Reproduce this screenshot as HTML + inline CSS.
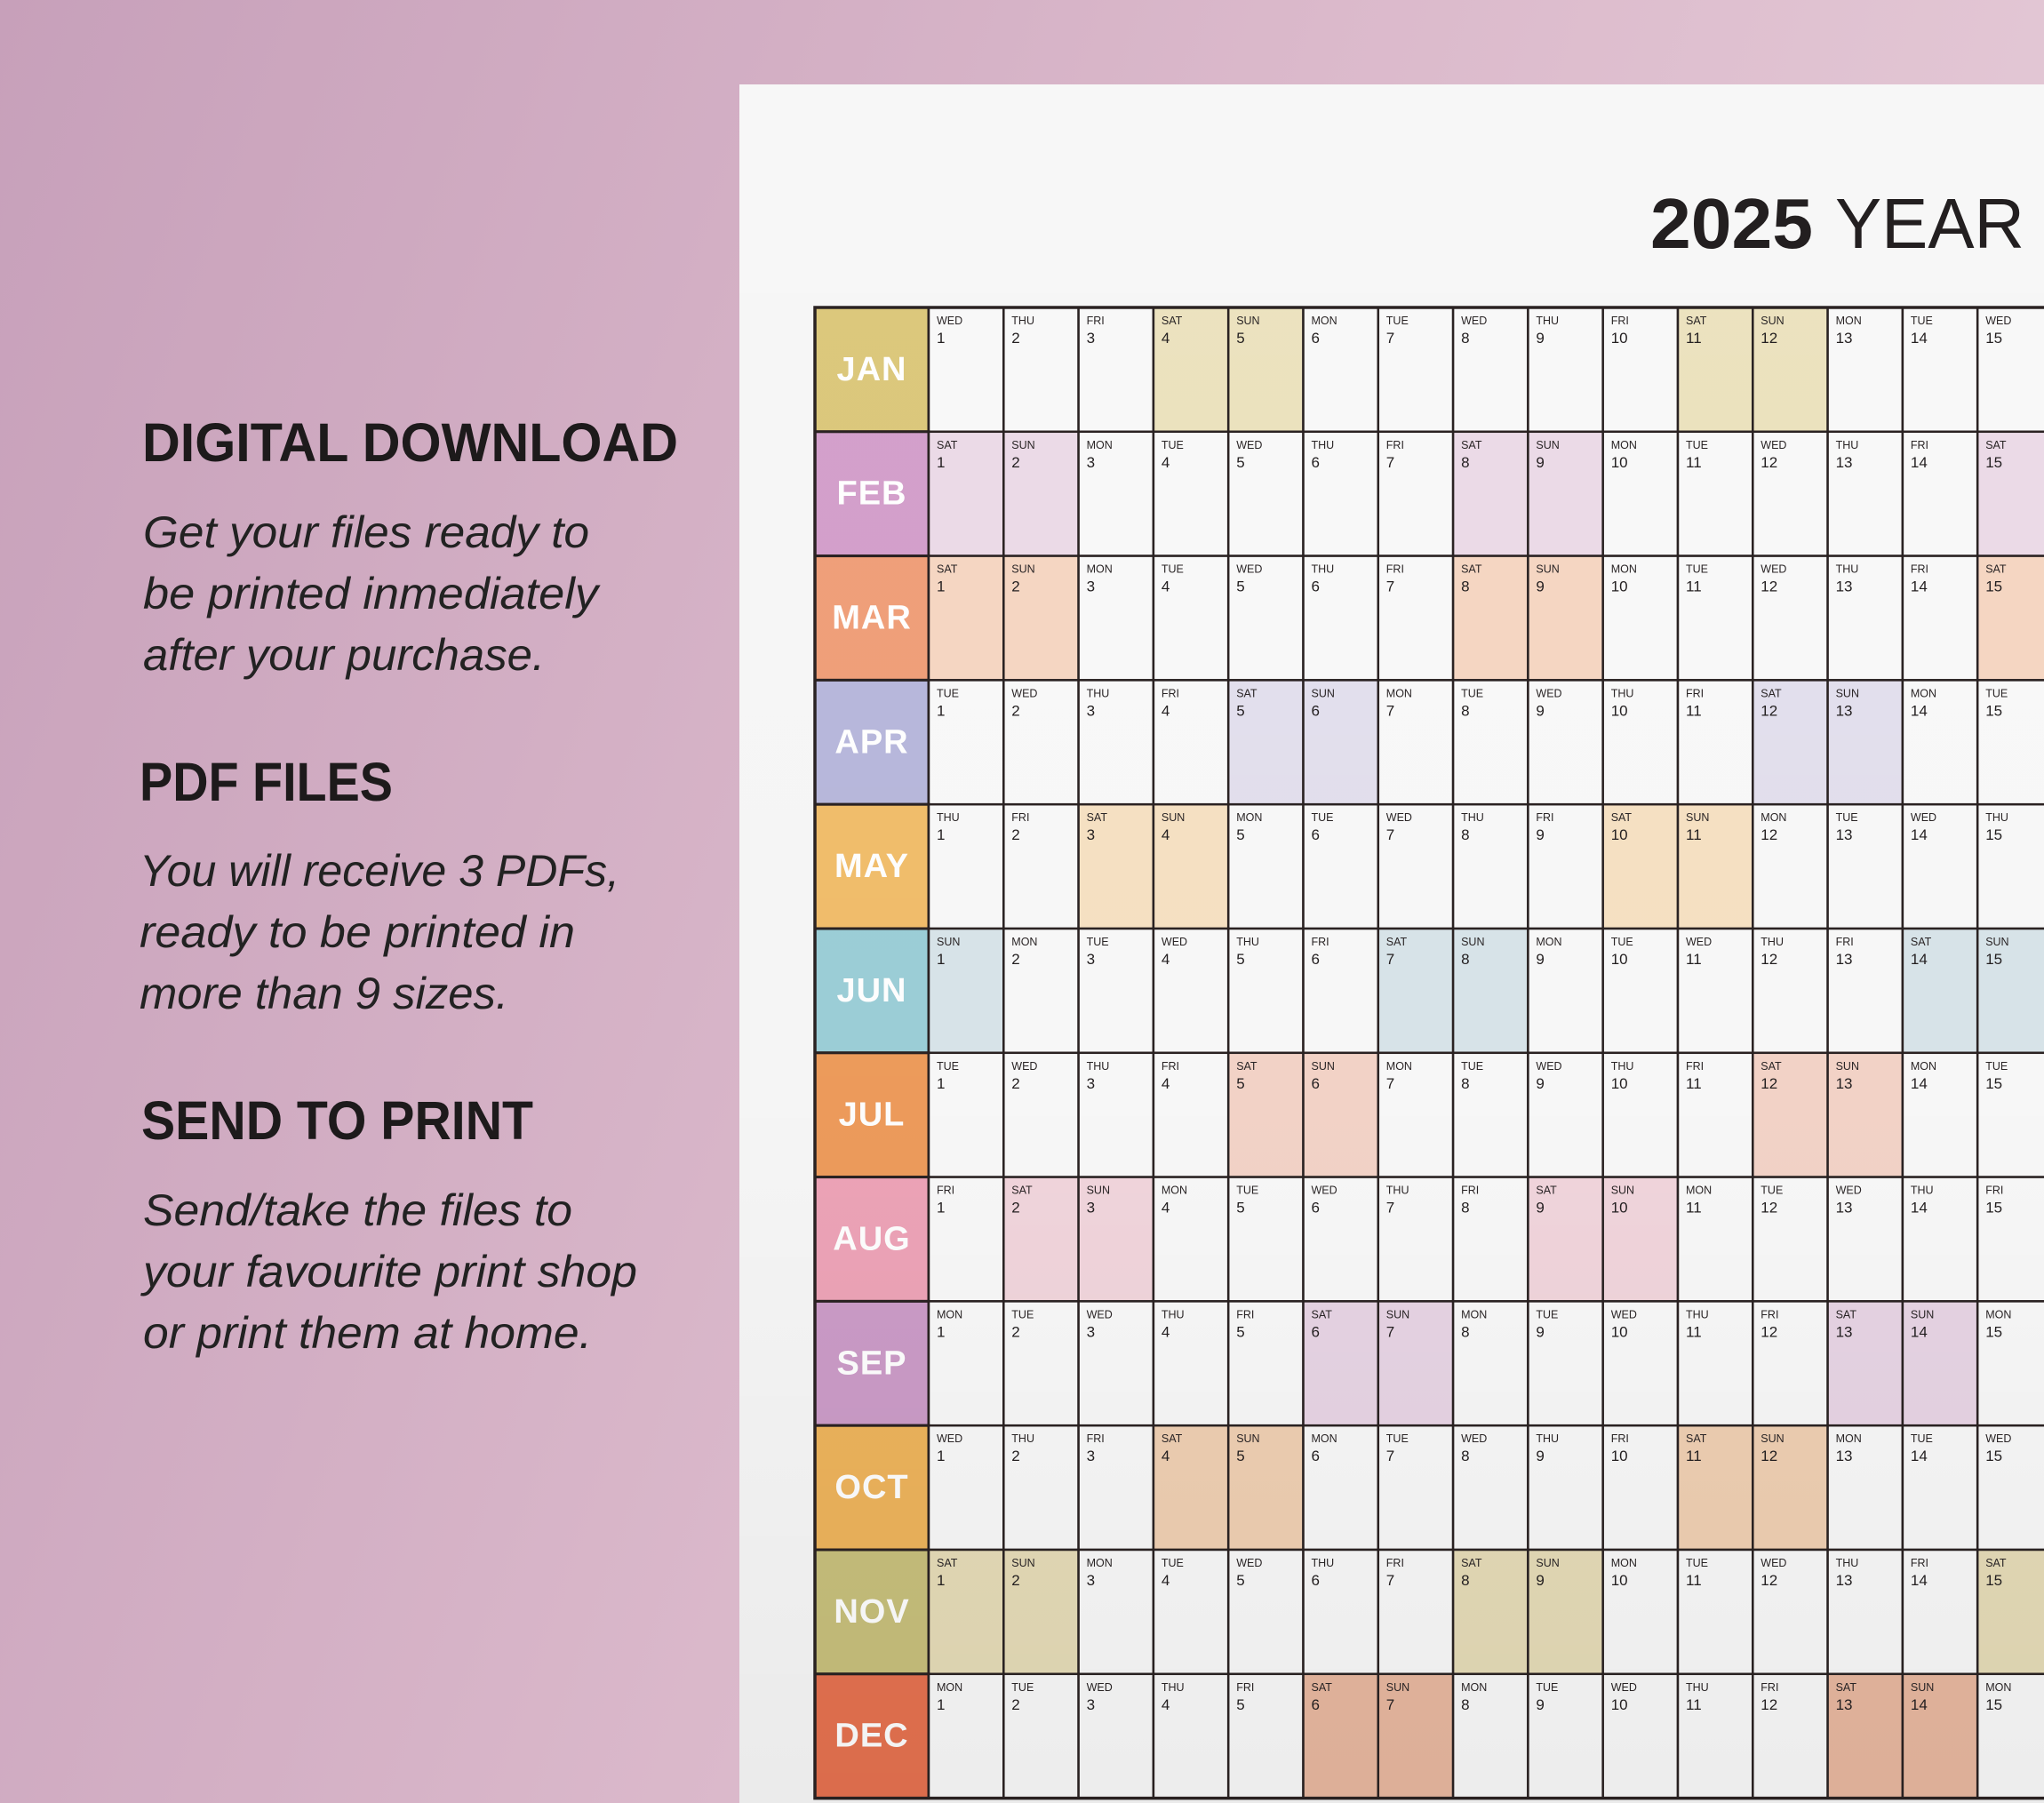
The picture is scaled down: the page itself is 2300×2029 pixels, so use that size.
<!DOCTYPE html>
<html><head><meta charset="utf-8"><style>
html,body{margin:0;padding:0;width:2300px;height:2029px;overflow:hidden}
svg{display:block}
</style></head><body>
<svg id="s" width="2300" height="2029" viewBox="0 0 2300 2029" xmlns="http://www.w3.org/2000/svg">
<defs>
<linearGradient id="bg" x1="0" y1="0" x2="1" y2="0.3">
<stop offset="0" stop-color="#c7a0ba"/><stop offset="0.6" stop-color="#dbb9cb"/><stop offset="1" stop-color="#e4c9d6"/>
</linearGradient>
<linearGradient id="paperShade" x1="0" y1="0" x2="0" y2="1">
<stop offset="0" stop-color="#000" stop-opacity="0"/><stop offset="0.6" stop-color="#000" stop-opacity="0.01"/><stop offset="1" stop-color="#000" stop-opacity="0.05"/>
</linearGradient>
</defs>
<rect width="2300" height="2029" fill="url(#bg)"/>
<rect x="832" y="95" width="1468" height="1934" fill="#f7f7f7"/>
<g font-family="Liberation Sans, sans-serif" fill="#1d1a1b">
<text x="160" y="519" font-size="61" font-weight="bold" textLength="603" lengthAdjust="spacingAndGlyphs">DIGITAL DOWNLOAD</text>
<g font-size="50" font-style="italic" fill="#222">
<text x="161" y="616" textLength="502" lengthAdjust="spacingAndGlyphs">Get your files ready to</text>
<text x="161" y="685" textLength="512" lengthAdjust="spacingAndGlyphs">be printed inmediately</text>
<text x="161" y="754" textLength="452" lengthAdjust="spacingAndGlyphs">after your purchase.</text>
</g>
<text x="157" y="901" font-size="61" font-weight="bold" textLength="285" lengthAdjust="spacingAndGlyphs">PDF FILES</text>
<g font-size="50" font-style="italic" fill="#222">
<text x="157" y="997" textLength="540" lengthAdjust="spacingAndGlyphs">You will receive 3 PDFs,</text>
<text x="157" y="1066" textLength="490" lengthAdjust="spacingAndGlyphs">ready to be printed in</text>
<text x="157" y="1135" textLength="415" lengthAdjust="spacingAndGlyphs">more than 9 sizes.</text>
</g>
<text x="159" y="1282" font-size="61" font-weight="bold" textLength="441" lengthAdjust="spacingAndGlyphs">SEND TO PRINT</text>
<g font-size="50" font-style="italic" fill="#222">
<text x="161" y="1379" textLength="483" lengthAdjust="spacingAndGlyphs">Send/take the files to</text>
<text x="161" y="1448" textLength="556" lengthAdjust="spacingAndGlyphs">your favourite print shop</text>
<text x="161" y="1517" textLength="505" lengthAdjust="spacingAndGlyphs">or print them at home.</text>
</g>
</g>
<g font-family="Liberation Sans, sans-serif" fill="#231f20">
<text x="1857" y="279" font-size="80" font-weight="bold" textLength="183" lengthAdjust="spacingAndGlyphs">2025</text>
<text x="2065" y="279" font-size="80" textLength="213" lengthAdjust="spacingAndGlyphs">YEAR</text>
</g>
<g id="grid"></g>
<rect x="832" y="95" width="1468" height="1934" fill="url(#paperShade)" pointer-events="none"/>
</svg>
<script>
const months = ["JAN","FEB","MAR","APR","MAY","JUN","JUL","AUG","SEP","OCT","NOV","DEC"];
const startWeekday = [3,6,6,2,4,0,2,5,1,3,6,1]; // 0=SUN
const daysShown = 15;
const dayNames = ["SUN","MON","TUE","WED","THU","FRI","SAT"];
const monthColors = ["#dcc87c","#d4a0cc","#f0a07a","#b8b8dc","#f2be6c","#9ccfd8","#ee9c5c","#eea4b8","#cc9cc8","#eeb45c","#c8c07c","#e67250"];
const weekendColors = ["#ece3bf","#ecdbe8","#f6d7c3","#e3e0ee","#f7e2c3","#d9e5ea","#f4d4c8","#f2d6dd","#e8d5e5","#f0d0b3","#e6dcb8","#e8b8a0"];

const NS="http://www.w3.org/2000/svg";
const g=document.getElementById('grid');
const X0=917, Y0=346, MW=128, DW=84.3, RH=139.8;
const xDay=i=>X0+MW+i*DW, yRow=r=>Y0+r*RH;
function el(t,a){const e=document.createElementNS(NS,t);for(const k in a)e.setAttribute(k,a[k]);return e;}
months.forEach((m,r)=>{
  const mr=el('rect',{x:X0,y:yRow(r),width:MW,height:RH,fill:monthColors[r],stroke:'#2a2222','stroke-width':3});
  
  
  g.appendChild(mr);
  const mt=el('text',{x:X0+MW/2,y:yRow(r)+RH/2+12,'text-anchor':'middle','font-family':'Liberation Sans, sans-serif','font-size':38,'font-weight':'bold',fill:'#fff','letter-spacing':1});
  mt.textContent=m;
  
  
  g.appendChild(mt);
  for(let d=0;d<daysShown;d++){
    const wd=(startWeekday[r]+d)%7;
    const we=(wd===0||wd===6);
    const c=el('rect',{x:xDay(d),y:yRow(r),width:DW,height:RH,fill:we?weekendColors[r]:'#f9f9f9',stroke:'#2a2222','stroke-width':2.5});
    
    
    g.appendChild(c);
    const t1=el('text',{x:xDay(d)+9,y:yRow(r)+19,'font-family':'Liberation Sans, sans-serif','font-size':12.5,fill:'#2a2526'});
    t1.textContent=dayNames[wd];
    
    
    g.appendChild(t1);
    const t2=el('text',{x:xDay(d)+9,y:yRow(r)+40,'font-family':'Liberation Sans, sans-serif','font-size':17,fill:'#231f20'});
    t2.textContent=String(d+1);
    
    
    g.appendChild(t2);
  }
});
const ob=el('rect',{x:X0,y:Y0,width:2400-X0,height:RH*12,fill:'none',stroke:'#2a2222','stroke-width':3.5});


g.appendChild(ob);
</script>
</body></html>
